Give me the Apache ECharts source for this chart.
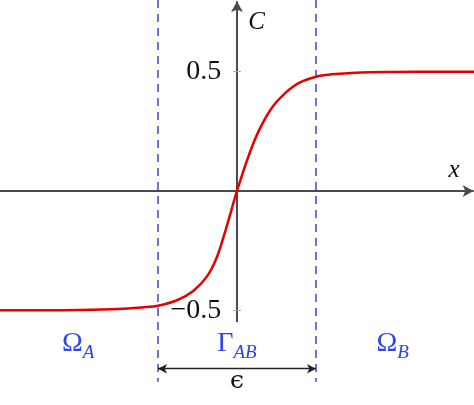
<!DOCTYPE html>
<html><head><meta charset="utf-8">
<script src="https://cdn.jsdelivr.net/npm/echarts@6/dist/echarts.min.js"></script>
<style>html,body{margin:0;padding:0;background:#fff}#c{width:474px;height:405px}</style>
</head><body><div id="c"></div>
<script>
// Data
const xValues = [-3, -2.5, -2, -1.5, -1.2, -1.0, -0.76, -0.55, -0.38, -0.26, -0.15, 0, 0.15, 0.28, 0.44, 0.61, 0.78, 1.0, 1.2, 1.5, 2, 2.5, 3];
const cValues = [-0.5, -0.5, -0.499, -0.495, -0.488, -0.481, -0.458, -0.418, -0.358, -0.282, -0.17, 0, 0.15, 0.255, 0.348, 0.41, 0.452, 0.479, 0.489, 0.496, 0.499, 0.5, 0.5];
const interfaceX = [-1, 1];
const tickValues = [0.5, -0.5];
const tickLabels = ['0.5', '\u22120.5'];
const regionMain = ['\u03A9', '\u0393', '\u03A9'];
const regionSub = ['A', 'AB', 'B'];
const widthLabel = '\u03F5';
const axisNames = ['x', 'C'];

const FONT = 'Liberation Serif';
const AX = '#4a4a4a';
const BLUE = '#2f45e8';

const curve = xValues.map((x, i) => [x, cValues[i]]);

const axisLines = [
  [{ coord: [-3, 0], symbol: 'none' }, { coord: [2.995, 0], symbol: 'arrow', symbolSize: [9, 11] }],
  [{ coord: [0, -0.549], symbol: 'none' }, { coord: [0, 0.795], symbol: 'arrow', symbolSize: [9, 11] }]
];
const tickLines = tickValues.map(v => [{ coord: [-0.05, v] }, { coord: [0.05, v] }]);
const dashLines = interfaceX.map(x => [{ coord: [x, 0.8005] }, { coord: [x, -0.80] }]);

const option = {
  animation: false,
  grid: { left: 0, right: 0, top: 0, bottom: 0 },
  xAxis: { type: 'value', min: -3, max: 3, show: false },
  yAxis: { type: 'value', min: -0.897, max: 0.8005, show: false },
  series: [
    {
      type: 'line', name: 'dashes', data: [], silent: true,
      markLine: {
        silent: true, symbol: ['none', 'none'], label: { show: false },
        lineStyle: { color: '#6576d4', width: 2, type: [8, 6] },
        data: dashLines
      }
    },
    {
      type: 'line', name: 'axes', data: [], silent: true,
      markLine: {
        silent: true, label: { show: false },
        lineStyle: { color: AX, width: 2, type: 'solid' },
        data: axisLines
      }
    },
    {
      type: 'line', name: 'ticks', data: [], silent: true,
      markLine: {
        silent: true, symbol: ['none', 'none'], label: { show: false },
        lineStyle: { color: '#aaaaaa', width: 1, type: 'solid' },
        data: tickLines
      }
    },
    {
      type: 'line', name: 'width', data: [], silent: true,
      markLine: {
        silent: true, symbol: ['arrow', 'arrow'], symbolSize: [7, 9], label: { show: false },
        lineStyle: { color: '#222', width: 1.3, type: 'solid' },
        data: [[{ coord: [interfaceX[0], -0.745] }, { coord: [interfaceX[1], -0.745] }]]
      }
    },
    {
      type: 'line', name: 'C', data: curve, smooth: 0.35, showSymbol: false,
      lineStyle: { color: '#e60000', width: 2.5 }, z: 5
    }
  ]
};
const chart = echarts.init(document.getElementById('c'), null, { renderer: 'canvas' });
chart.setOption(option);

const px = (x, y) => chart.convertToPixel({ gridIndex: 0 }, [x, y]);
const texts = [];
tickValues.forEach((v, i) => {
  const p = px(-0.2, v);
  texts.push({ type: 'text', x: p[0], y: p[1], silent: true,
    style: { text: tickLabels[i], fontFamily: FONT, fontSize: 28, fill: '#111', align: 'right', verticalAlign: 'middle' } });
});
[[2.747, 0.088], [0.247, 0.708]].forEach((c, i) => {
  const p = px(c[0], c[1]);
  texts.push({ type: 'text', x: p[0], y: p[1], silent: true,
    style: { text: axisNames[i], fontFamily: FONT, fontStyle: 'italic', fontSize: 25, fill: '#111', align: 'center', verticalAlign: 'middle' } });
});
[-2.01, 0, 1.97].forEach((cx, i) => {
  const p = px(cx, -0.64);
  texts.push({ type: 'text', x: p[0], y: p[1], silent: true,
    style: {
      text: '{m|' + regionMain[i] + '}{s|' + regionSub[i] + '}',
      align: 'center', verticalAlign: 'middle',
      rich: {
        m: { fontFamily: FONT, fontSize: 28, lineHeight: 30, fill: BLUE },
        s: { fontFamily: FONT, fontSize: 19, fontStyle: 'italic', lineHeight: 14, verticalAlign: 'bottom', fill: BLUE, padding: [0, 0, -4, 0] }
      }
    } });
});
{
  const p = px(0, -0.8);
  texts.push({ type: 'text', x: p[0], y: p[1], silent: true,
    style: { text: widthLabel, fontFamily: 'DejaVu Serif', fontSize: 25, fill: '#111', align: 'center', verticalAlign: 'middle' } });
}
chart.setOption({ graphic: texts });
</script></body></html>
